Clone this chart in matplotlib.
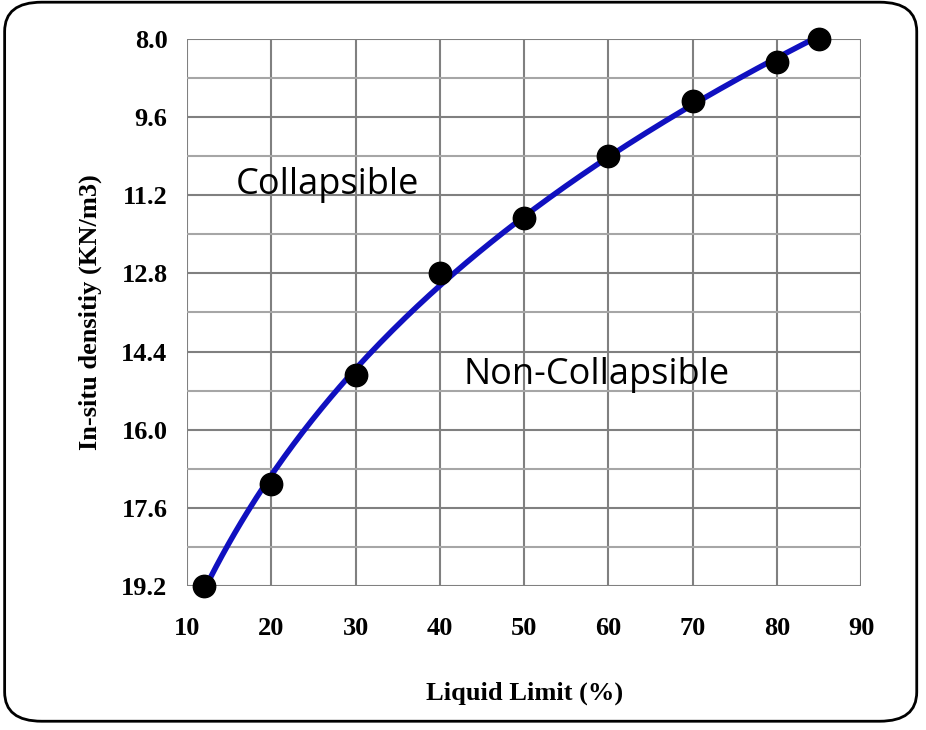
import numpy as np
import matplotlib
matplotlib.use("Agg")
import matplotlib.pyplot as plt
from matplotlib.patches import FancyBboxPatch

liquid_limit = [12, 20, 30, 40, 50, 60, 70, 80, 85]
density = [19.2, 17.1, 14.88, 12.8, 11.66, 10.4, 9.27, 8.47, 8.0]

fig = plt.figure(figsize=(9.26, 7.30), dpi=100)
fig.patches.append(FancyBboxPatch((0.005, 0.012), 0.985, 0.985, boxstyle="round,pad=0,rounding_size=0.04",
                                  transform=fig.transFigure, fill=False, lw=2, ec="black"))
ax = fig.add_axes([0.202, 0.197, 0.728, 0.75])
ax.set_xlim(10, 90)
ax.set_ylim(19.2, 8.0)
ax.set_xticks(np.arange(10, 91, 10))
yt = [8.0, 9.6, 11.2, 12.8, 14.4, 16.0, 17.6, 19.2]
ax.set_yticks(yt)
ax.set_yticklabels([f"{v:.1f}" for v in yt])
ax.set_yticks(np.arange(8.8, 19.2, 1.6), minor=True)
ax.grid(True, which="major", color="#808080", lw=1.5)
ax.grid(True, which="minor", axis="y", color="#a6a6a6", lw=1.5)
ax.tick_params(axis="y", which="both", length=0, pad=14)
ax.tick_params(axis="x", which="both", length=0, pad=22)
for s in ax.spines.values():
    s.set_visible(False)
for lab in ax.get_xticklabels() + ax.get_yticklabels():
    lab.set_fontfamily("Liberation Serif"); lab.set_fontweight("bold"); lab.set_fontsize(19)

x = np.array(liquid_limit, float); y = np.array(density)
c = np.polyfit(np.log(x), y, 2)
xs = np.linspace(12, 85, 200)
ax.plot(xs, np.polyval(c, np.log(xs)), color="#1010c0", lw=4, zorder=3, clip_on=False)
ax.scatter(x, y, s=260, color="black", zorder=4, clip_on=False)

ax.text(15.8, 11.0, "Collapsible", fontsize=26, family="Open Sans", va="center")
ax.text(42.8, 14.88, "Non-Collapsible", fontsize=26, family="Open Sans", va="center")
ax.set_xlabel("Liquid Limit (%)", fontsize=19, family="Liberation Serif", fontweight="bold", labelpad=30)
ax.set_ylabel("In-situ densitiy (KN/m3)", fontsize=19, family="Liberation Serif", fontweight="bold", labelpad=14)
fig.savefig("out.png", dpi=100)
